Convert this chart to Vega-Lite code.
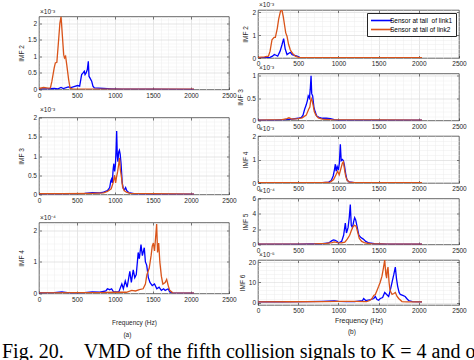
{
"$schema": "https://vega.github.io/schema/vega-lite/v6.json",
"background": "white",
"padding": {"left": 2, "top": -12.5, "right": 0, "bottom": 0},
"config": {
  "font": "Liberation Sans",
  "view": {"stroke": "#262626", "strokeWidth": 0.7},
  "axis": {"labelFontSize": 6.5, "labelColor": "#262626", "titleFontSize": 6.5, "titleFontWeight": "normal", "titleColor": "#262626", "domain": false, "tickColor": "#262626", "tickSize": -2.5, "tickWidth": 0.6, "labelPadding": 5, "titlePadding": 3, "gridWidth": 0.5, "gridOpacity": 1, "labelFlush": false, "labelOverlap": false},
  "title": {"fontSize": 6.5, "fontWeight": "normal", "anchor": "start", "color": "#262626", "offset": 1, "frame": "group", "dx": 1}
},
"title": {"text": "Fig. 20.\u00a0\u00a0\u00a0\u00a0VMD of the fifth collision signals to K = 4 and optimization", "orient": "bottom", "anchor": "start", "frame": "group", "dx": -37, "offset": 3, "font": "Liberation Serif", "fontSize": 20, "fontWeight": "normal", "color": "black"},
"datasets": {"d": [
{"p":"L1","s":"1","f":0,"v":0.02},{"p":"L1","s":"1","f":100,"v":0.02},{"p":"L1","s":"1","f":200,"v":0.03},{"p":"L1","s":"1","f":250,"v":0.02},{"p":"L1","s":"1","f":290,"v":0.06},{"p":"L1","s":"1","f":320,"v":0.03},{"p":"L1","s":"1","f":386,"v":0.08},{"p":"L1","s":"1","f":420,"v":0.06},{"p":"L1","s":"1","f":460,"v":0.09},{"p":"L1","s":"1","f":509,"v":0.12},{"p":"L1","s":"1","f":535,"v":0.1},{"p":"L1","s":"1","f":561,"v":0.45},{"p":"L1","s":"1","f":580,"v":0.5},{"p":"L1","s":"1","f":596,"v":0.55},{"p":"L1","s":"1","f":606,"v":0.45},{"p":"L1","s":"1","f":620,"v":0.5},{"p":"L1","s":"1","f":636,"v":0.6},{"p":"L1","s":"1","f":649,"v":0.85},{"p":"L1","s":"1","f":658,"v":0.4},{"p":"L1","s":"1","f":670,"v":0.35},{"p":"L1","s":"1","f":693,"v":0.25},{"p":"L1","s":"1","f":710,"v":0.1},{"p":"L1","s":"1","f":728,"v":0.05},{"p":"L1","s":"1","f":780,"v":0.04},{"p":"L1","s":"1","f":850,"v":0.03},{"p":"L1","s":"1","f":950,"v":0.02},{"p":"L1","s":"1","f":1100,"v":0.01},{"p":"L1","s":"1","f":1500,"v":0.01},{"p":"L1","s":"1","f":2040,"v":0.005},
{"p":"L1","s":"2","f":0,"v":0.03},{"p":"L1","s":"2","f":60,"v":0.06},{"p":"L1","s":"2","f":120,"v":0.04},{"p":"L1","s":"2","f":150,"v":0.05},{"p":"L1","s":"2","f":170,"v":0.25},{"p":"L1","s":"2","f":200,"v":0.65},{"p":"L1","s":"2","f":215,"v":0.8},{"p":"L1","s":"2","f":235,"v":0.82},{"p":"L1","s":"2","f":255,"v":1.4},{"p":"L1","s":"2","f":275,"v":2.0},{"p":"L1","s":"2","f":290,"v":2.2},{"p":"L1","s":"2","f":305,"v":1.7},{"p":"L1","s":"2","f":325,"v":1.05},{"p":"L1","s":"2","f":335,"v":0.95},{"p":"L1","s":"2","f":350,"v":1.0},{"p":"L1","s":"2","f":365,"v":0.75},{"p":"L1","s":"2","f":390,"v":0.3},{"p":"L1","s":"2","f":410,"v":0.03},{"p":"L1","s":"2","f":450,"v":0.01},{"p":"L1","s":"2","f":1000,"v":0.01},{"p":"L1","s":"2","f":2040,"v":0.01},
{"p":"L2","s":"1","f":0,"v":0.02},{"p":"L2","s":"1","f":300,"v":0.02},{"p":"L2","s":"1","f":600,"v":0.03},{"p":"L2","s":"1","f":700,"v":0.05},{"p":"L2","s":"1","f":800,"v":0.04},{"p":"L2","s":"1","f":850,"v":0.06},{"p":"L2","s":"1","f":900,"v":0.1},{"p":"L2","s":"1","f":930,"v":0.18},{"p":"L2","s":"1","f":945,"v":0.35},{"p":"L2","s":"1","f":955,"v":0.4},{"p":"L2","s":"1","f":965,"v":0.3},{"p":"L2","s":"1","f":975,"v":0.65},{"p":"L2","s":"1","f":985,"v":0.8},{"p":"L2","s":"1","f":995,"v":0.6},{"p":"L2","s":"1","f":1005,"v":0.75},{"p":"L2","s":"1","f":1015,"v":1.2},{"p":"L2","s":"1","f":1022,"v":1.65},{"p":"L2","s":"1","f":1030,"v":1.0},{"p":"L2","s":"1","f":1038,"v":0.85},{"p":"L2","s":"1","f":1048,"v":1.1},{"p":"L2","s":"1","f":1058,"v":1.15},{"p":"L2","s":"1","f":1068,"v":1.05},{"p":"L2","s":"1","f":1080,"v":0.8},{"p":"L2","s":"1","f":1095,"v":0.3},{"p":"L2","s":"1","f":1110,"v":0.15},{"p":"L2","s":"1","f":1125,"v":0.12},{"p":"L2","s":"1","f":1140,"v":0.18},{"p":"L2","s":"1","f":1155,"v":0.1},{"p":"L2","s":"1","f":1180,"v":0.05},{"p":"L2","s":"1","f":1250,"v":0.02},{"p":"L2","s":"1","f":1500,"v":0.01},{"p":"L2","s":"1","f":2040,"v":0.01},
{"p":"L2","s":"2","f":0,"v":0.02},{"p":"L2","s":"2","f":300,"v":0.02},{"p":"L2","s":"2","f":700,"v":0.03},{"p":"L2","s":"2","f":850,"v":0.04},{"p":"L2","s":"2","f":900,"v":0.08},{"p":"L2","s":"2","f":950,"v":0.15},{"p":"L2","s":"2","f":975,"v":0.3},{"p":"L2","s":"2","f":995,"v":0.5},{"p":"L2","s":"2","f":1008,"v":0.3},{"p":"L2","s":"2","f":1020,"v":0.45},{"p":"L2","s":"2","f":1035,"v":0.6},{"p":"L2","s":"2","f":1050,"v":0.8},{"p":"L2","s":"2","f":1060,"v":0.95},{"p":"L2","s":"2","f":1070,"v":0.65},{"p":"L2","s":"2","f":1085,"v":0.45},{"p":"L2","s":"2","f":1100,"v":0.2},{"p":"L2","s":"2","f":1120,"v":0.1},{"p":"L2","s":"2","f":1150,"v":0.06},{"p":"L2","s":"2","f":1200,"v":0.03},{"p":"L2","s":"2","f":1500,"v":0.02},{"p":"L2","s":"2","f":2040,"v":0.01},
{"p":"L3","s":"1","f":0,"v":0.02},{"p":"L3","s":"1","f":200,"v":0.03},{"p":"L3","s":"1","f":300,"v":0.05},{"p":"L3","s":"1","f":400,"v":0.02},{"p":"L3","s":"1","f":600,"v":0.03},{"p":"L3","s":"1","f":700,"v":0.05},{"p":"L3","s":"1","f":800,"v":0.04},{"p":"L3","s":"1","f":880,"v":0.08},{"p":"L3","s":"1","f":900,"v":0.15},{"p":"L3","s":"1","f":930,"v":0.12},{"p":"L3","s":"1","f":955,"v":0.15},{"p":"L3","s":"1","f":980,"v":0.05},{"p":"L3","s":"1","f":1050,"v":0.05},{"p":"L3","s":"1","f":1090,"v":0.3},{"p":"L3","s":"1","f":1110,"v":0.15},{"p":"L3","s":"1","f":1135,"v":0.4},{"p":"L3","s":"1","f":1160,"v":0.2},{"p":"L3","s":"1","f":1195,"v":0.7},{"p":"L3","s":"1","f":1215,"v":0.35},{"p":"L3","s":"1","f":1240,"v":0.75},{"p":"L3","s":"1","f":1260,"v":0.5},{"p":"L3","s":"1","f":1280,"v":0.6},{"p":"L3","s":"1","f":1305,"v":1.3},{"p":"L3","s":"1","f":1320,"v":1.1},{"p":"L3","s":"1","f":1342,"v":1.55},{"p":"L3","s":"1","f":1360,"v":1.2},{"p":"L3","s":"1","f":1385,"v":1.45},{"p":"L3","s":"1","f":1400,"v":1.0},{"p":"L3","s":"1","f":1417,"v":0.9},{"p":"L3","s":"1","f":1439,"v":0.5},{"p":"L3","s":"1","f":1460,"v":0.35},{"p":"L3","s":"1","f":1490,"v":0.25},{"p":"L3","s":"1","f":1520,"v":0.3},{"p":"L3","s":"1","f":1550,"v":0.15},{"p":"L3","s":"1","f":1580,"v":0.2},{"p":"L3","s":"1","f":1610,"v":0.1},{"p":"L3","s":"1","f":1640,"v":0.15},{"p":"L3","s":"1","f":1660,"v":0.1},{"p":"L3","s":"1","f":1700,"v":0.15},{"p":"L3","s":"1","f":1720,"v":0.05},{"p":"L3","s":"1","f":1760,"v":0.02},{"p":"L3","s":"1","f":2040,"v":0.01},
{"p":"L3","s":"2","f":0,"v":0.02},{"p":"L3","s":"2","f":500,"v":0.03},{"p":"L3","s":"2","f":800,"v":0.03},{"p":"L3","s":"2","f":1000,"v":0.04},{"p":"L3","s":"2","f":1150,"v":0.04},{"p":"L3","s":"2","f":1220,"v":0.1},{"p":"L3","s":"2","f":1270,"v":0.08},{"p":"L3","s":"2","f":1320,"v":0.12},{"p":"L3","s":"2","f":1370,"v":0.15},{"p":"L3","s":"2","f":1400,"v":0.3},{"p":"L3","s":"2","f":1420,"v":0.6},{"p":"L3","s":"2","f":1450,"v":0.8},{"p":"L3","s":"2","f":1475,"v":1.2},{"p":"L3","s":"2","f":1490,"v":1.5},{"p":"L3","s":"2","f":1505,"v":1.6},{"p":"L3","s":"2","f":1520,"v":1.35},{"p":"L3","s":"2","f":1535,"v":1.8},{"p":"L3","s":"2","f":1548,"v":2.2},{"p":"L3","s":"2","f":1560,"v":1.3},{"p":"L3","s":"2","f":1575,"v":1.6},{"p":"L3","s":"2","f":1590,"v":1.0},{"p":"L3","s":"2","f":1610,"v":0.55},{"p":"L3","s":"2","f":1630,"v":0.3},{"p":"L3","s":"2","f":1660,"v":0.35},{"p":"L3","s":"2","f":1680,"v":0.45},{"p":"L3","s":"2","f":1700,"v":0.25},{"p":"L3","s":"2","f":1720,"v":0.1},{"p":"L3","s":"2","f":1760,"v":0.02},{"p":"L3","s":"2","f":2040,"v":0.01},
{"p":"R1","s":"1","f":0,"v":0.02},{"p":"R1","s":"1","f":150,"v":0.03},{"p":"R1","s":"1","f":180,"v":0.08},{"p":"R1","s":"1","f":203,"v":0.15},{"p":"R1","s":"1","f":225,"v":0.12},{"p":"R1","s":"1","f":245,"v":0.08},{"p":"R1","s":"1","f":275,"v":0.3},{"p":"R1","s":"1","f":300,"v":0.6},{"p":"R1","s":"1","f":319,"v":0.85},{"p":"R1","s":"1","f":338,"v":0.4},{"p":"R1","s":"1","f":361,"v":0.15},{"p":"R1","s":"1","f":380,"v":0.2},{"p":"R1","s":"1","f":402,"v":0.25},{"p":"R1","s":"1","f":425,"v":0.15},{"p":"R1","s":"1","f":444,"v":0.13},{"p":"R1","s":"1","f":485,"v":0.08},{"p":"R1","s":"1","f":520,"v":0.03},{"p":"R1","s":"1","f":600,"v":0.01},{"p":"R1","s":"1","f":2040,"v":0.01},
{"p":"R1","s":"2","f":0,"v":0.03},{"p":"R1","s":"2","f":80,"v":0.05},{"p":"R1","s":"2","f":130,"v":0.08},{"p":"R1","s":"2","f":150,"v":0.3},{"p":"R1","s":"2","f":174,"v":0.8},{"p":"R1","s":"2","f":200,"v":0.9},{"p":"R1","s":"2","f":216,"v":0.9},{"p":"R1","s":"2","f":240,"v":1.3},{"p":"R1","s":"2","f":257,"v":1.7},{"p":"R1","s":"2","f":280,"v":2.05},{"p":"R1","s":"2","f":298,"v":2.1},{"p":"R1","s":"2","f":315,"v":1.8},{"p":"R1","s":"2","f":332,"v":1.4},{"p":"R1","s":"2","f":345,"v":1.1},{"p":"R1","s":"2","f":361,"v":0.95},{"p":"R1","s":"2","f":380,"v":0.6},{"p":"R1","s":"2","f":402,"v":0.35},{"p":"R1","s":"2","f":430,"v":0.2},{"p":"R1","s":"2","f":464,"v":0.08},{"p":"R1","s":"2","f":505,"v":0.03},{"p":"R1","s":"2","f":600,"v":0.01},{"p":"R1","s":"2","f":2040,"v":0.01},
{"p":"R2","s":"1","f":0,"v":0.01},{"p":"R2","s":"1","f":200,"v":0.01},{"p":"R2","s":"1","f":350,"v":0.02},{"p":"R2","s":"1","f":420,"v":0.03},{"p":"R2","s":"1","f":500,"v":0.05},{"p":"R2","s":"1","f":540,"v":0.07},{"p":"R2","s":"1","f":560,"v":0.12},{"p":"R2","s":"1","f":580,"v":0.25},{"p":"R2","s":"1","f":600,"v":0.35},{"p":"R2","s":"1","f":615,"v":0.45},{"p":"R2","s":"1","f":625,"v":0.55},{"p":"R2","s":"1","f":640,"v":0.5},{"p":"R2","s":"1","f":650,"v":0.7},{"p":"R2","s":"1","f":660,"v":1.0},{"p":"R2","s":"1","f":668,"v":0.6},{"p":"R2","s":"1","f":680,"v":0.55},{"p":"R2","s":"1","f":695,"v":0.3},{"p":"R2","s":"1","f":710,"v":0.2},{"p":"R2","s":"1","f":730,"v":0.1},{"p":"R2","s":"1","f":760,"v":0.07},{"p":"R2","s":"1","f":800,"v":0.05},{"p":"R2","s":"1","f":850,"v":0.05},{"p":"R2","s":"1","f":900,"v":0.04},{"p":"R2","s":"1","f":950,"v":0.02},{"p":"R2","s":"1","f":1000,"v":0.01},{"p":"R2","s":"1","f":2040,"v":0.01},
{"p":"R2","s":"2","f":0,"v":0.01},{"p":"R2","s":"2","f":300,"v":0.02},{"p":"R2","s":"2","f":360,"v":0.04},{"p":"R2","s":"2","f":385,"v":0.06},{"p":"R2","s":"2","f":420,"v":0.03},{"p":"R2","s":"2","f":500,"v":0.04},{"p":"R2","s":"2","f":550,"v":0.06},{"p":"R2","s":"2","f":600,"v":0.12},{"p":"R2","s":"2","f":630,"v":0.25},{"p":"R2","s":"2","f":645,"v":0.3},{"p":"R2","s":"2","f":660,"v":0.5},{"p":"R2","s":"2","f":672,"v":0.45},{"p":"R2","s":"2","f":685,"v":0.35},{"p":"R2","s":"2","f":700,"v":0.2},{"p":"R2","s":"2","f":720,"v":0.12},{"p":"R2","s":"2","f":750,"v":0.06},{"p":"R2","s":"2","f":800,"v":0.03},{"p":"R2","s":"2","f":900,"v":0.02},{"p":"R2","s":"2","f":2000,"v":0.01},{"p":"R2","s":"2","f":2040,"v":0.01},
{"p":"R3","s":"1","f":0,"v":0.01},{"p":"R3","s":"1","f":500,"v":0.01},{"p":"R3","s":"1","f":800,"v":0.02},{"p":"R3","s":"1","f":880,"v":0.04},{"p":"R3","s":"1","f":910,"v":0.1},{"p":"R3","s":"1","f":935,"v":0.3},{"p":"R3","s":"1","f":950,"v":0.55},{"p":"R3","s":"1","f":962,"v":0.8},{"p":"R3","s":"1","f":972,"v":0.5},{"p":"R3","s":"1","f":985,"v":0.7},{"p":"R3","s":"1","f":1000,"v":0.55},{"p":"R3","s":"1","f":1012,"v":0.85},{"p":"R3","s":"1","f":1024,"v":1.65},{"p":"R3","s":"1","f":1035,"v":0.95},{"p":"R3","s":"1","f":1048,"v":1.0},{"p":"R3","s":"1","f":1062,"v":0.95},{"p":"R3","s":"1","f":1075,"v":0.75},{"p":"R3","s":"1","f":1090,"v":0.4},{"p":"R3","s":"1","f":1105,"v":0.15},{"p":"R3","s":"1","f":1130,"v":0.05},{"p":"R3","s":"1","f":1200,"v":0.02},{"p":"R3","s":"1","f":2040,"v":0.01},
{"p":"R3","s":"2","f":0,"v":0.01},{"p":"R3","s":"2","f":800,"v":0.01},{"p":"R3","s":"2","f":900,"v":0.04},{"p":"R3","s":"2","f":940,"v":0.15},{"p":"R3","s":"2","f":970,"v":0.35},{"p":"R3","s":"2","f":990,"v":0.5},{"p":"R3","s":"2","f":1010,"v":0.35},{"p":"R3","s":"2","f":1030,"v":0.6},{"p":"R3","s":"2","f":1050,"v":0.85},{"p":"R3","s":"2","f":1062,"v":0.9},{"p":"R3","s":"2","f":1075,"v":0.6},{"p":"R3","s":"2","f":1090,"v":0.3},{"p":"R3","s":"2","f":1110,"v":0.1},{"p":"R3","s":"2","f":1140,"v":0.04},{"p":"R3","s":"2","f":1200,"v":0.02},{"p":"R3","s":"2","f":2040,"v":0.01},
{"p":"R4","s":"1","f":0,"v":0.05},{"p":"R4","s":"1","f":500,"v":0.05},{"p":"R4","s":"1","f":800,"v":0.1},{"p":"R4","s":"1","f":880,"v":0.2},{"p":"R4","s":"1","f":920,"v":0.5},{"p":"R4","s":"1","f":940,"v":0.6},{"p":"R4","s":"1","f":960,"v":0.55},{"p":"R4","s":"1","f":985,"v":0.4},{"p":"R4","s":"1","f":1000,"v":0.2},{"p":"R4","s":"1","f":1040,"v":0.4},{"p":"R4","s":"1","f":1065,"v":1.2},{"p":"R4","s":"1","f":1086,"v":2.8},{"p":"R4","s":"1","f":1100,"v":1.5},{"p":"R4","s":"1","f":1120,"v":2.2},{"p":"R4","s":"1","f":1135,"v":3.5},{"p":"R4","s":"1","f":1148,"v":5.2},{"p":"R4","s":"1","f":1160,"v":2.5},{"p":"R4","s":"1","f":1175,"v":2.2},{"p":"R4","s":"1","f":1190,"v":3.0},{"p":"R4","s":"1","f":1202,"v":3.5},{"p":"R4","s":"1","f":1215,"v":3.2},{"p":"R4","s":"1","f":1235,"v":2.2},{"p":"R4","s":"1","f":1255,"v":1.2},{"p":"R4","s":"1","f":1280,"v":0.9},{"p":"R4","s":"1","f":1310,"v":0.7},{"p":"R4","s":"1","f":1340,"v":0.4},{"p":"R4","s":"1","f":1380,"v":0.2},{"p":"R4","s":"1","f":1450,"v":0.1},{"p":"R4","s":"1","f":1600,"v":0.05},{"p":"R4","s":"1","f":2040,"v":0.03},
{"p":"R4","s":"2","f":0,"v":0.05},{"p":"R4","s":"2","f":700,"v":0.08},{"p":"R4","s":"2","f":850,"v":0.15},{"p":"R4","s":"2","f":920,"v":0.25},{"p":"R4","s":"2","f":950,"v":0.35},{"p":"R4","s":"2","f":990,"v":0.25},{"p":"R4","s":"2","f":1040,"v":0.2},{"p":"R4","s":"2","f":1080,"v":0.3},{"p":"R4","s":"2","f":1110,"v":0.7},{"p":"R4","s":"2","f":1140,"v":1.2},{"p":"R4","s":"2","f":1160,"v":1.8},{"p":"R4","s":"2","f":1180,"v":2.3},{"p":"R4","s":"2","f":1200,"v":2.5},{"p":"R4","s":"2","f":1220,"v":2.4},{"p":"R4","s":"2","f":1240,"v":1.6},{"p":"R4","s":"2","f":1260,"v":0.8},{"p":"R4","s":"2","f":1290,"v":0.4},{"p":"R4","s":"2","f":1330,"v":0.2},{"p":"R4","s":"2","f":1400,"v":0.1},{"p":"R4","s":"2","f":1600,"v":0.05},{"p":"R4","s":"2","f":2040,"v":0.03},
{"p":"R5","s":"1","f":0,"v":0.3},{"p":"R5","s":"1","f":300,"v":0.4},{"p":"R5","s":"1","f":600,"v":0.5},{"p":"R5","s":"1","f":800,"v":0.6},{"p":"R5","s":"1","f":950,"v":0.8},{"p":"R5","s":"1","f":1000,"v":0.6},{"p":"R5","s":"1","f":1100,"v":0.5},{"p":"R5","s":"1","f":1200,"v":0.5},{"p":"R5","s":"1","f":1300,"v":1.0},{"p":"R5","s":"1","f":1314,"v":2.0},{"p":"R5","s":"1","f":1340,"v":1.0},{"p":"R5","s":"1","f":1400,"v":1.5},{"p":"R5","s":"1","f":1440,"v":2.0},{"p":"R5","s":"1","f":1459,"v":3.0},{"p":"R5","s":"1","f":1480,"v":1.5},{"p":"R5","s":"1","f":1500,"v":1.2},{"p":"R5","s":"1","f":1521,"v":2.0},{"p":"R5","s":"1","f":1550,"v":2.5},{"p":"R5","s":"1","f":1576,"v":5.0},{"p":"R5","s":"1","f":1600,"v":4.0},{"p":"R5","s":"1","f":1625,"v":3.0},{"p":"R5","s":"1","f":1645,"v":6.0},{"p":"R5","s":"1","f":1667,"v":10.0},{"p":"R5","s":"1","f":1690,"v":14},{"p":"R5","s":"1","f":1708,"v":17.5},{"p":"R5","s":"1","f":1722,"v":12},{"p":"R5","s":"1","f":1737,"v":8},{"p":"R5","s":"1","f":1755,"v":5},{"p":"R5","s":"1","f":1770,"v":4},{"p":"R5","s":"1","f":1800,"v":3.5},{"p":"R5","s":"1","f":1830,"v":3},{"p":"R5","s":"1","f":1850,"v":2},{"p":"R5","s":"1","f":1873,"v":1},{"p":"R5","s":"1","f":1920,"v":0.5},{"p":"R5","s":"1","f":2040,"v":0.3},
{"p":"R5","s":"2","f":0,"v":0.3},{"p":"R5","s":"2","f":400,"v":0.4},{"p":"R5","s":"2","f":800,"v":0.5},{"p":"R5","s":"2","f":1000,"v":0.6},{"p":"R5","s":"2","f":1200,"v":0.6},{"p":"R5","s":"2","f":1350,"v":0.5},{"p":"R5","s":"2","f":1390,"v":1.0},{"p":"R5","s":"2","f":1418,"v":2.0},{"p":"R5","s":"2","f":1440,"v":3.5},{"p":"R5","s":"2","f":1459,"v":4},{"p":"R5","s":"2","f":1480,"v":6},{"p":"R5","s":"2","f":1501,"v":8},{"p":"R5","s":"2","f":1520,"v":10},{"p":"R5","s":"2","f":1542,"v":13},{"p":"R5","s":"2","f":1560,"v":17},{"p":"R5","s":"2","f":1576,"v":21},{"p":"R5","s":"2","f":1590,"v":14},{"p":"R5","s":"2","f":1600,"v":12},{"p":"R5","s":"2","f":1608,"v":16},{"p":"R5","s":"2","f":1617,"v":17.5},{"p":"R5","s":"2","f":1630,"v":10},{"p":"R5","s":"2","f":1642,"v":6},{"p":"R5","s":"2","f":1667,"v":4},{"p":"R5","s":"2","f":1690,"v":4.5},{"p":"R5","s":"2","f":1708,"v":5},{"p":"R5","s":"2","f":1730,"v":3},{"p":"R5","s":"2","f":1750,"v":2},{"p":"R5","s":"2","f":1791,"v":0.5},{"p":"R5","s":"2","f":1850,"v":0.3},{"p":"R5","s":"2","f":2040,"v":0.3}
]},
"spacing": 0,
"resolve": {"scale": {"color": "independent"}, "legend": {"color": "independent"}},
"hconcat": [
 {"bounds": "flush", "spacing": 28,
  "resolve": {"scale": {"color": "independent"}, "legend": {"color": "independent"}},
  "title": {"text": "(a)", "orient": "bottom", "anchor": "middle", "frame": "bounds", "dx": 0, "offset": 6, "fontSize": 6.5, "color": "#262626"},
  "vconcat": [
     {"width": 190, "height": 0.5, "data": {"values": []}, "mark": {"type": "point", "opacity": 0}, "view": {"stroke": null}},
     {"width": 190, "height": 73, "data": {"name": "d"}, "transform": [{"filter": "datum.p == 'L1'"}],
      "title": {"text": "×10⁻³"},
      "resolve": {"axis": {"x": "independent", "y": "independent"}},
      "layer": [
       {"mark": {"type": "line", "opacity": 0}, "encoding": {
         "x": {"field": "f", "type": "quantitative", "scale": {"domain": [0, 2500], "nice": false}, "axis": {"grid": true, "gridColor": "#ededed", "values": [100,200,300,400,500,600,700,800,900,1000,1100,1200,1300,1400,1500,1600,1700,1800,1900,2000,2100,2200,2300,2400], "labels": false, "ticks": false, "title": null}},
         "y": {"field": "v", "type": "quantitative", "scale": {"domain": [0, 2.2], "nice": false}, "axis": {"grid": true, "gridColor": "#ededed", "values": [0.1,0.2,0.3,0.4,0.5,0.6,0.7,0.8,0.9,1,1.1,1.2,1.3,1.4,1.5,1.6,1.7,1.8,1.9,2,2.1], "labels": false, "ticks": false, "title": null}}}},
       {"mark": {"type": "line", "opacity": 0}, "encoding": {
         "x": {"field": "f", "type": "quantitative", "scale": {"domain": [0, 2500], "nice": false}, "axis": {"orient": "top", "grid": true, "gridColor": "#d6d6d6", "values": [500,1000,1500,2000], "labels": false, "ticks": true, "title": null}},
         "y": {"field": "v", "type": "quantitative", "scale": {"domain": [0, 2.2], "nice": false}, "axis": {"orient": "right", "grid": true, "gridColor": "#d6d6d6", "values": [0.5,1,1.5,2], "labels": false, "ticks": true, "title": null}}}},
       {"mark": {"type": "line", "strokeWidth": 1.3, "clip": true}, "encoding": {
         "x": {"field": "f", "type": "quantitative", "scale": {"domain": [0, 2500], "nice": false}, "axis": {"orient": "bottom", "grid": false, "values": [0,500,1000,1500,2000,2500], "labelExpr": "datum.value + ''", "title": null}},
         "y": {"field": "v", "type": "quantitative", "scale": {"domain": [0, 2.2], "nice": false}, "axis": {"orient": "left", "grid": false, "values": [0,0.5,1,1.5,2], "labelExpr": "datum.value + ''", "title": "IMF 2"}},
         "color": {"field": "s", "type": "nominal", "scale": {"domain": ["1","2"], "range": ["#0000ff","#d95319"]}, "legend": null}}}
      ]},
     {"width": 190, "height": 77, "data": {"name": "d"}, "transform": [{"filter": "datum.p == 'L2'"}],
      "title": {"text": "×10⁻³"},
      "resolve": {"axis": {"x": "independent", "y": "independent"}},
      "layer": [
       {"mark": {"type": "line", "opacity": 0}, "encoding": {
         "x": {"field": "f", "type": "quantitative", "scale": {"domain": [0, 2500], "nice": false}, "axis": {"grid": true, "gridColor": "#ededed", "values": [100,200,300,400,500,600,700,800,900,1000,1100,1200,1300,1400,1500,1600,1700,1800,1900,2000,2100,2200,2300,2400], "labels": false, "ticks": false, "title": null}},
         "y": {"field": "v", "type": "quantitative", "scale": {"domain": [0, 2], "nice": false}, "axis": {"grid": true, "gridColor": "#ededed", "values": [0.1,0.2,0.3,0.4,0.5,0.6,0.7,0.8,0.9,1,1.1,1.2,1.3,1.4,1.5,1.6,1.7,1.8,1.9], "labels": false, "ticks": false, "title": null}}}},
       {"mark": {"type": "line", "opacity": 0}, "encoding": {
         "x": {"field": "f", "type": "quantitative", "scale": {"domain": [0, 2500], "nice": false}, "axis": {"orient": "top", "grid": true, "gridColor": "#d6d6d6", "values": [500,1000,1500,2000], "labels": false, "ticks": true, "title": null}},
         "y": {"field": "v", "type": "quantitative", "scale": {"domain": [0, 2], "nice": false}, "axis": {"orient": "right", "grid": true, "gridColor": "#d6d6d6", "values": [0.5,1,1.5], "labels": false, "ticks": true, "title": null}}}},
       {"mark": {"type": "line", "strokeWidth": 1.3, "clip": true}, "encoding": {
         "x": {"field": "f", "type": "quantitative", "scale": {"domain": [0, 2500], "nice": false}, "axis": {"orient": "bottom", "grid": false, "values": [0,500,1000,1500,2000,2500], "labelExpr": "datum.value + ''", "title": null}},
         "y": {"field": "v", "type": "quantitative", "scale": {"domain": [0, 2], "nice": false}, "axis": {"orient": "left", "grid": false, "values": [0,0.5,1,1.5,2], "labelExpr": "datum.value + ''", "title": "IMF 3"}},
         "color": {"field": "s", "type": "nominal", "scale": {"domain": ["1","2"], "range": ["#0000ff","#d95319"]}, "legend": null}}}
      ]},
     {"width": 190, "height": 71, "data": {"name": "d"}, "transform": [{"filter": "datum.p == 'L3'"}],
      "title": {"text": "×10⁻⁴"},
      "resolve": {"axis": {"x": "independent", "y": "independent"}},
      "layer": [
       {"mark": {"type": "line", "opacity": 0}, "encoding": {
         "x": {"field": "f", "type": "quantitative", "scale": {"domain": [0, 2500], "nice": false}, "axis": {"grid": true, "gridColor": "#ededed", "values": [100,200,300,400,500,600,700,800,900,1000,1100,1200,1300,1400,1500,1600,1700,1800,1900,2000,2100,2200,2300,2400], "labels": false, "ticks": false, "title": null}},
         "y": {"field": "v", "type": "quantitative", "scale": {"domain": [0, 2.25], "nice": false}, "axis": {"grid": true, "gridColor": "#ededed", "values": [0.2,0.4,0.6,0.8,1,1.2,1.4,1.6,1.8,2,2.2], "labels": false, "ticks": false, "title": null}}}},
       {"mark": {"type": "line", "opacity": 0}, "encoding": {
         "x": {"field": "f", "type": "quantitative", "scale": {"domain": [0, 2500], "nice": false}, "axis": {"orient": "top", "grid": true, "gridColor": "#d6d6d6", "values": [500,1000,1500,2000], "labels": false, "ticks": true, "title": null}},
         "y": {"field": "v", "type": "quantitative", "scale": {"domain": [0, 2.25], "nice": false}, "axis": {"orient": "right", "grid": true, "gridColor": "#d6d6d6", "values": [1,2], "labels": false, "ticks": true, "title": null}}}},
       {"mark": {"type": "line", "strokeWidth": 1.3, "clip": true}, "encoding": {
         "x": {"field": "f", "type": "quantitative", "scale": {"domain": [0, 2500], "nice": false}, "axis": {"orient": "bottom", "grid": false, "values": [0,500,1000,1500,2000,2500], "labelExpr": "datum.value + ''", "title": "Frequency (Hz)", "titlePadding": 17}},
         "y": {"field": "v", "type": "quantitative", "scale": {"domain": [0, 2.25], "nice": false}, "axis": {"orient": "left", "grid": false, "values": [0,1,2], "labelExpr": "datum.value + ''", "title": "IMF 4", "titlePadding": 8}},
         "color": {"field": "s", "type": "nominal", "scale": {"domain": ["1","2"], "range": ["#0000ff","#d95319"]}, "legend": null}}}
      ]}
  ]},
 {"bounds": "flush", "spacing": 15.5,
  "resolve": {"scale": {"color": "independent"}, "legend": {"color": "independent"}},
  "title": {"text": "(b)", "orient": "bottom", "anchor": "middle", "frame": "bounds", "dx": 0, "offset": 6, "fontSize": 6.5, "color": "#262626"},
  "vconcat": [
   {"width": 201, "height": 7, "data": {"values": []}, "mark": {"type": "point", "opacity": 0}, "view": {"stroke": null}},
   {"width": 201, "height": 48, "data": {"name": "d"}, "transform": [{"filter": "datum.p == 'R1'"}],
    "title": {"text": "×10⁻³"},
    "resolve": {"axis": {"x": "independent", "y": "independent"}},
    "layer": [
     {"mark": {"type": "line", "opacity": 0}, "encoding": {
       "x": {"field": "f", "type": "quantitative", "scale": {"domain": [0, 2500], "nice": false}, "axis": {"grid": true, "gridColor": "#ededed", "values": [100,200,300,400,500,600,700,800,900,1000,1100,1200,1300,1400,1500,1600,1700,1800,1900,2000,2100,2200,2300,2400], "labels": false, "ticks": false, "title": null}},
       "y": {"field": "v", "type": "quantitative", "scale": {"domain": [0, 2.1], "nice": false}, "axis": {"grid": true, "gridColor": "#ededed", "values": [0.2,0.4,0.6,0.8,1,1.2,1.4,1.6,1.8,2], "labels": false, "ticks": false, "title": null}}}},
     {"mark": {"type": "line", "opacity": 0}, "encoding": {
       "x": {"field": "f", "type": "quantitative", "scale": {"domain": [0, 2500], "nice": false}, "axis": {"orient": "top", "grid": true, "gridColor": "#d6d6d6", "values": [500,1000,1500,2000], "labels": false, "ticks": true, "title": null}},
       "y": {"field": "v", "type": "quantitative", "scale": {"domain": [0, 2.1], "nice": false}, "axis": {"orient": "right", "grid": true, "gridColor": "#d6d6d6", "values": [1,2], "labels": false, "ticks": true, "title": null}}}},
     {"mark": {"type": "line", "strokeWidth": 1.3, "clip": true}, "encoding": {
       "x": {"field": "f", "type": "quantitative", "scale": {"domain": [0, 2500], "nice": false}, "axis": {"orient": "bottom", "grid": false, "values": [0,500,1000,1500,2000,2500], "labelExpr": "datum.value + ''", "title": null}},
       "y": {"field": "v", "type": "quantitative", "scale": {"domain": [0, 2.1], "nice": false}, "axis": {"orient": "left", "grid": false, "values": [0,1,2], "labelExpr": "datum.value + ''", "title": "IMF 2"}},
       "color": {"field": "s", "type": "nominal", "scale": {"domain": ["1","2"], "range": ["#0000ff","#d95319"]},
         "legend": {"orient": "top-right", "offset": 3, "title": null, "labelFontSize": 6.5, "labelColor": "#000", "symbolType": "M-3,0H3", "symbolSize": 49, "symbolStrokeWidth": 1.6, "symbolOffset": 7, "labelOffset": 4, "strokeColor": "#262626", "fillColor": "white", "padding": 3, "rowPadding": 1, "labelExpr": "datum.value == '1' ? 'Sensor at tail\u00a0\u00a0of link1' : 'Sensor at tail of link2'"}}}}
    ]},
   {"width": 201, "height": 47, "data": {"name": "d"}, "transform": [{"filter": "datum.p == 'R2'"}],
    "title": {"text": "×10⁻³"},
    "resolve": {"axis": {"x": "independent", "y": "independent"}},
    "layer": [
     {"mark": {"type": "line", "opacity": 0}, "encoding": {
       "x": {"field": "f", "type": "quantitative", "scale": {"domain": [0, 2500], "nice": false}, "axis": {"grid": true, "gridColor": "#ededed", "values": [100,200,300,400,500,600,700,800,900,1000,1100,1200,1300,1400,1500,1600,1700,1800,1900,2000,2100,2200,2300,2400], "labels": false, "ticks": false, "title": null}},
       "y": {"field": "v", "type": "quantitative", "scale": {"domain": [0, 1.05], "nice": false}, "axis": {"grid": true, "gridColor": "#ededed", "values": [0.1,0.2,0.3,0.4,0.5,0.6,0.7,0.8,0.9,1], "labels": false, "ticks": false, "title": null}}}},
     {"mark": {"type": "line", "opacity": 0}, "encoding": {
       "x": {"field": "f", "type": "quantitative", "scale": {"domain": [0, 2500], "nice": false}, "axis": {"orient": "top", "grid": true, "gridColor": "#d6d6d6", "values": [500,1000,1500,2000], "labels": false, "ticks": true, "title": null}},
       "y": {"field": "v", "type": "quantitative", "scale": {"domain": [0, 1.05], "nice": false}, "axis": {"orient": "right", "grid": true, "gridColor": "#d6d6d6", "values": [0.5,1], "labels": false, "ticks": true, "title": null}}}},
     {"mark": {"type": "line", "strokeWidth": 1.3, "clip": true}, "encoding": {
       "x": {"field": "f", "type": "quantitative", "scale": {"domain": [0, 2500], "nice": false}, "axis": {"orient": "bottom", "grid": false, "values": [0,500,1000,1500,2000,2500], "labelExpr": "datum.value + ''", "title": null}},
       "y": {"field": "v", "type": "quantitative", "scale": {"domain": [0, 1.05], "nice": false}, "axis": {"orient": "left", "grid": false, "values": [0,0.5,1], "labelExpr": "datum.value + ''", "title": "IMF 3"}},
       "color": {"field": "s", "type": "nominal", "scale": {"domain": ["1","2"], "range": ["#0000ff","#d95319"]}, "legend": null}}}
    ]},
   {"width": 201, "height": 47, "data": {"name": "d"}, "transform": [{"filter": "datum.p == 'R3'"}],
    "title": {"text": "×10⁻³"},
    "resolve": {"axis": {"x": "independent", "y": "independent"}},
    "layer": [
     {"mark": {"type": "line", "opacity": 0}, "encoding": {
       "x": {"field": "f", "type": "quantitative", "scale": {"domain": [0, 2500], "nice": false}, "axis": {"grid": true, "gridColor": "#ededed", "values": [100,200,300,400,500,600,700,800,900,1000,1100,1200,1300,1400,1500,1600,1700,1800,1900,2000,2100,2200,2300,2400], "labels": false, "ticks": false, "title": null}},
       "y": {"field": "v", "type": "quantitative", "scale": {"domain": [0, 2], "nice": false}, "axis": {"grid": true, "gridColor": "#ededed", "values": [0.2,0.4,0.6,0.8,1,1.2,1.4,1.6,1.8], "labels": false, "ticks": false, "title": null}}}},
     {"mark": {"type": "line", "opacity": 0}, "encoding": {
       "x": {"field": "f", "type": "quantitative", "scale": {"domain": [0, 2500], "nice": false}, "axis": {"orient": "top", "grid": true, "gridColor": "#d6d6d6", "values": [500,1000,1500,2000], "labels": false, "ticks": true, "title": null}},
       "y": {"field": "v", "type": "quantitative", "scale": {"domain": [0, 2], "nice": false}, "axis": {"orient": "right", "grid": true, "gridColor": "#d6d6d6", "values": [1], "labels": false, "ticks": true, "title": null}}}},
     {"mark": {"type": "line", "strokeWidth": 1.3, "clip": true}, "encoding": {
       "x": {"field": "f", "type": "quantitative", "scale": {"domain": [0, 2500], "nice": false}, "axis": {"orient": "bottom", "grid": false, "values": [0,500,1000,1500,2000,2500], "labelExpr": "datum.value + ''", "title": null}},
       "y": {"field": "v", "type": "quantitative", "scale": {"domain": [0, 2], "nice": false}, "axis": {"orient": "left", "grid": false, "values": [0,1,2], "labelExpr": "datum.value + ''", "title": "IMF 4"}},
       "color": {"field": "s", "type": "nominal", "scale": {"domain": ["1","2"], "range": ["#0000ff","#d95319"]}, "legend": null}}}
    ]},
   {"width": 201, "height": 46, "data": {"name": "d"}, "transform": [{"filter": "datum.p == 'R4'"}],
    "title": {"text": "×10⁻⁴"},
    "resolve": {"axis": {"x": "independent", "y": "independent"}},
    "layer": [
     {"mark": {"type": "line", "opacity": 0}, "encoding": {
       "x": {"field": "f", "type": "quantitative", "scale": {"domain": [0, 2500], "nice": false}, "axis": {"grid": true, "gridColor": "#ededed", "values": [100,200,300,400,500,600,700,800,900,1000,1100,1200,1300,1400,1500,1600,1700,1800,1900,2000,2100,2200,2300,2400], "labels": false, "ticks": false, "title": null}},
       "y": {"field": "v", "type": "quantitative", "scale": {"domain": [0, 6], "nice": false}, "axis": {"grid": true, "gridColor": "#ededed", "values": [0.5,1,1.5,2,2.5,3,3.5,4,4.5,5,5.5], "labels": false, "ticks": false, "title": null}}}},
     {"mark": {"type": "line", "opacity": 0}, "encoding": {
       "x": {"field": "f", "type": "quantitative", "scale": {"domain": [0, 2500], "nice": false}, "axis": {"orient": "top", "grid": true, "gridColor": "#d6d6d6", "values": [500,1000,1500,2000], "labels": false, "ticks": true, "title": null}},
       "y": {"field": "v", "type": "quantitative", "scale": {"domain": [0, 6], "nice": false}, "axis": {"orient": "right", "grid": true, "gridColor": "#d6d6d6", "values": [2,4], "labels": false, "ticks": true, "title": null}}}},
     {"mark": {"type": "line", "strokeWidth": 1.3, "clip": true}, "encoding": {
       "x": {"field": "f", "type": "quantitative", "scale": {"domain": [0, 2500], "nice": false}, "axis": {"orient": "bottom", "grid": false, "values": [0,500,1000,1500,2000,2500], "labelExpr": "datum.value + ''", "title": null}},
       "y": {"field": "v", "type": "quantitative", "scale": {"domain": [0, 6], "nice": false}, "axis": {"orient": "left", "grid": false, "values": [0,2,4,6], "labelExpr": "datum.value + ''", "title": "IMF 5"}},
       "color": {"field": "s", "type": "nominal", "scale": {"domain": ["1","2"], "range": ["#0000ff","#d95319"]}, "legend": null}}}
    ]},
   {"width": 201, "height": 45, "data": {"name": "d"}, "transform": [{"filter": "datum.p == 'R5'"}],
    "title": {"text": "×10⁻⁵"},
    "resolve": {"axis": {"x": "independent", "y": "independent"}},
    "layer": [
     {"mark": {"type": "line", "opacity": 0}, "encoding": {
       "x": {"field": "f", "type": "quantitative", "scale": {"domain": [0, 2500], "nice": false}, "axis": {"grid": true, "gridColor": "#ededed", "values": [100,200,300,400,500,600,700,800,900,1000,1100,1200,1300,1400,1500,1600,1700,1800,1900,2000,2100,2200,2300,2400], "labels": false, "ticks": false, "title": null}},
       "y": {"field": "v", "type": "quantitative", "scale": {"domain": [-1.2, 21], "nice": false, "zero": false}, "axis": {"grid": true, "gridColor": "#ededed", "values": [2,4,6,8,12,14,16,18], "labels": false, "ticks": false, "title": null}}}},
     {"mark": {"type": "line", "opacity": 0}, "encoding": {
       "x": {"field": "f", "type": "quantitative", "scale": {"domain": [0, 2500], "nice": false}, "axis": {"orient": "top", "grid": true, "gridColor": "#d6d6d6", "values": [500,1000,1500,2000], "labels": false, "ticks": true, "title": null}},
       "y": {"field": "v", "type": "quantitative", "scale": {"domain": [-1.2, 21], "nice": false, "zero": false}, "axis": {"orient": "right", "grid": true, "gridColor": "#d6d6d6", "values": [0,10,20], "labels": false, "ticks": true, "title": null}}}},
     {"mark": {"type": "line", "strokeWidth": 1.3, "clip": true}, "encoding": {
       "x": {"field": "f", "type": "quantitative", "scale": {"domain": [0, 2500], "nice": false}, "axis": {"orient": "bottom", "grid": false, "values": [0,500,1000,1500,2000,2500], "labelExpr": "datum.value + ''", "title": "Frequency (Hz)", "titlePadding": 2, "titleFontSize": 7}},
       "y": {"field": "v", "type": "quantitative", "scale": {"domain": [-1.2, 21], "nice": false, "zero": false}, "axis": {"orient": "left", "grid": false, "values": [0,10,20], "labelExpr": "datum.value + ''", "title": "IMF 6"}},
       "color": {"field": "s", "type": "nominal", "scale": {"domain": ["1","2"], "range": ["#0000ff","#d95319"]}, "legend": null}}}
    ]}
  ]}
]
}
